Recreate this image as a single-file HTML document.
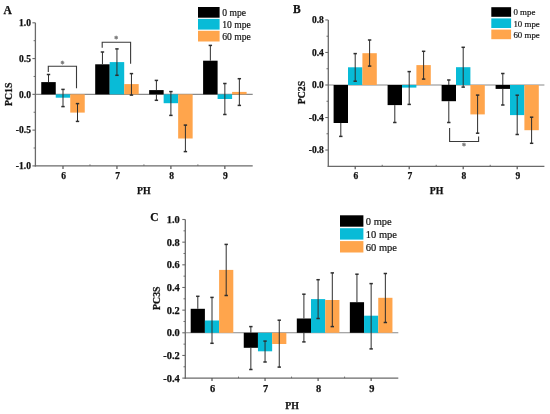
<!DOCTYPE html>
<html><head><meta charset="utf-8"><title>PC bar charts</title>
<style>
html,body{margin:0;padding:0;background:#fff;}
body{width:550px;height:414px;overflow:hidden;}
svg{display:block;}
svg text{font-family:'Liberation Serif', 'Times New Roman', serif;fill:#111;}
svg text[font-weight=bold]{stroke:#111;stroke-width:0.25px;}
svg text[font-weight=normal]{stroke:#222;stroke-width:0.2px;}
</style></head>
<body>
<svg width="550" height="414" viewBox="0 0 550 414" shape-rendering="auto">
<rect x="0" y="0" width="550" height="414" fill="#fff"/>
<line x1="35.40" y1="94.35" x2="252.70" y2="94.35" stroke="#8a8a8a" stroke-width="1.1"/>
<rect x="41.25" y="82.10" width="14.50" height="12.25" fill="#000"/>
<rect x="55.75" y="94.35" width="14.50" height="3.35" fill="#08bbd7"/>
<rect x="70.25" y="94.35" width="14.50" height="18.25" fill="#ffa54c"/>
<line x1="48.50" y1="74.50" x2="48.50" y2="82.10" stroke="#2e2e2e" stroke-width="1.0"/>
<line x1="46.80" y1="74.50" x2="50.20" y2="74.50" stroke="#2e2e2e" stroke-width="1.5"/>
<line x1="63.00" y1="89.40" x2="63.00" y2="106.60" stroke="#2e2e2e" stroke-width="1.0"/>
<line x1="61.30" y1="89.40" x2="64.70" y2="89.40" stroke="#2e2e2e" stroke-width="1.5"/>
<line x1="61.30" y1="106.60" x2="64.70" y2="106.60" stroke="#2e2e2e" stroke-width="1.5"/>
<line x1="77.50" y1="103.60" x2="77.50" y2="121.40" stroke="#2e2e2e" stroke-width="1.0"/>
<line x1="75.80" y1="103.60" x2="79.20" y2="103.60" stroke="#2e2e2e" stroke-width="1.5"/>
<line x1="75.80" y1="121.40" x2="79.20" y2="121.40" stroke="#2e2e2e" stroke-width="1.5"/>
<rect x="95.20" y="64.30" width="14.50" height="30.05" fill="#000"/>
<rect x="109.70" y="62.10" width="14.50" height="32.25" fill="#08bbd7"/>
<rect x="124.20" y="84.10" width="14.50" height="10.25" fill="#ffa54c"/>
<line x1="102.45" y1="52.00" x2="102.45" y2="64.30" stroke="#2e2e2e" stroke-width="1.0"/>
<line x1="100.75" y1="52.00" x2="104.15" y2="52.00" stroke="#2e2e2e" stroke-width="1.5"/>
<line x1="116.95" y1="48.90" x2="116.95" y2="75.30" stroke="#2e2e2e" stroke-width="1.0"/>
<line x1="115.25" y1="48.90" x2="118.65" y2="48.90" stroke="#2e2e2e" stroke-width="1.5"/>
<line x1="115.25" y1="75.30" x2="118.65" y2="75.30" stroke="#2e2e2e" stroke-width="1.5"/>
<line x1="131.45" y1="73.60" x2="131.45" y2="95.10" stroke="#2e2e2e" stroke-width="1.0"/>
<line x1="129.75" y1="73.60" x2="133.15" y2="73.60" stroke="#2e2e2e" stroke-width="1.5"/>
<line x1="129.75" y1="95.10" x2="133.15" y2="95.10" stroke="#2e2e2e" stroke-width="1.5"/>
<rect x="149.15" y="90.10" width="14.50" height="4.25" fill="#000"/>
<rect x="163.65" y="94.35" width="14.50" height="8.85" fill="#08bbd7"/>
<rect x="178.15" y="94.35" width="14.50" height="44.15" fill="#ffa54c"/>
<line x1="156.40" y1="80.40" x2="156.40" y2="90.10" stroke="#2e2e2e" stroke-width="1.0"/>
<line x1="156.40" y1="94.35" x2="156.40" y2="100.30" stroke="#2e2e2e" stroke-width="1.0"/>
<line x1="154.70" y1="80.40" x2="158.10" y2="80.40" stroke="#2e2e2e" stroke-width="1.5"/>
<line x1="154.70" y1="100.30" x2="158.10" y2="100.30" stroke="#2e2e2e" stroke-width="1.5"/>
<line x1="170.90" y1="91.60" x2="170.90" y2="115.40" stroke="#2e2e2e" stroke-width="1.0"/>
<line x1="169.20" y1="91.60" x2="172.60" y2="91.60" stroke="#2e2e2e" stroke-width="1.5"/>
<line x1="169.20" y1="115.40" x2="172.60" y2="115.40" stroke="#2e2e2e" stroke-width="1.5"/>
<line x1="185.40" y1="125.10" x2="185.40" y2="151.60" stroke="#2e2e2e" stroke-width="1.0"/>
<line x1="183.70" y1="125.10" x2="187.10" y2="125.10" stroke="#2e2e2e" stroke-width="1.5"/>
<line x1="183.70" y1="151.60" x2="187.10" y2="151.60" stroke="#2e2e2e" stroke-width="1.5"/>
<rect x="203.10" y="60.70" width="14.50" height="33.65" fill="#000"/>
<rect x="217.60" y="94.35" width="14.50" height="4.65" fill="#08bbd7"/>
<rect x="232.10" y="91.90" width="14.50" height="2.45" fill="#ffa54c"/>
<line x1="210.35" y1="45.40" x2="210.35" y2="60.70" stroke="#2e2e2e" stroke-width="1.0"/>
<line x1="208.65" y1="45.40" x2="212.05" y2="45.40" stroke="#2e2e2e" stroke-width="1.5"/>
<line x1="224.85" y1="83.50" x2="224.85" y2="114.50" stroke="#2e2e2e" stroke-width="1.0"/>
<line x1="223.15" y1="83.50" x2="226.55" y2="83.50" stroke="#2e2e2e" stroke-width="1.5"/>
<line x1="223.15" y1="114.50" x2="226.55" y2="114.50" stroke="#2e2e2e" stroke-width="1.5"/>
<line x1="239.35" y1="78.70" x2="239.35" y2="105.40" stroke="#2e2e2e" stroke-width="1.0"/>
<line x1="237.65" y1="78.70" x2="241.05" y2="78.70" stroke="#2e2e2e" stroke-width="1.5"/>
<line x1="237.65" y1="105.40" x2="241.05" y2="105.40" stroke="#2e2e2e" stroke-width="1.5"/>
<line x1="35.40" y1="22.80" x2="35.40" y2="166.50" stroke="#6a6a6a" stroke-width="1.3"/>
<line x1="34.80" y1="165.90" x2="252.70" y2="165.90" stroke="#6a6a6a" stroke-width="1.3"/>
<line x1="32.40" y1="22.80" x2="35.40" y2="22.80" stroke="#6a6a6a" stroke-width="1.1"/>
<text x="30.90" y="26.03" font-size="9.5" text-anchor="end" font-weight="bold" >1.0</text>
<line x1="32.40" y1="58.57" x2="35.40" y2="58.57" stroke="#6a6a6a" stroke-width="1.1"/>
<text x="30.90" y="61.80" font-size="9.5" text-anchor="end" font-weight="bold" >0.5</text>
<line x1="32.40" y1="94.35" x2="35.40" y2="94.35" stroke="#6a6a6a" stroke-width="1.1"/>
<text x="30.90" y="97.58" font-size="9.5" text-anchor="end" font-weight="bold" >0.0</text>
<line x1="32.40" y1="130.12" x2="35.40" y2="130.12" stroke="#6a6a6a" stroke-width="1.1"/>
<text x="30.90" y="133.35" font-size="9.5" text-anchor="end" font-weight="bold" >-0.5</text>
<line x1="32.40" y1="165.90" x2="35.40" y2="165.90" stroke="#6a6a6a" stroke-width="1.1"/>
<text x="30.90" y="169.13" font-size="9.5" text-anchor="end" font-weight="bold" >-1.0</text>
<line x1="33.60" y1="40.69" x2="35.40" y2="40.69" stroke="#6a6a6a" stroke-width="1.0"/>
<line x1="33.60" y1="76.46" x2="35.40" y2="76.46" stroke="#6a6a6a" stroke-width="1.0"/>
<line x1="33.60" y1="112.24" x2="35.40" y2="112.24" stroke="#6a6a6a" stroke-width="1.0"/>
<line x1="33.60" y1="148.01" x2="35.40" y2="148.01" stroke="#6a6a6a" stroke-width="1.0"/>
<line x1="63.00" y1="165.90" x2="63.00" y2="168.90" stroke="#555" stroke-width="1.2"/>
<text x="63.60" y="178.80" font-size="9.5" text-anchor="middle" font-weight="bold" >6</text>
<line x1="116.95" y1="165.90" x2="116.95" y2="168.90" stroke="#555" stroke-width="1.2"/>
<text x="117.55" y="178.80" font-size="9.5" text-anchor="middle" font-weight="bold" >7</text>
<line x1="170.90" y1="165.90" x2="170.90" y2="168.90" stroke="#555" stroke-width="1.2"/>
<text x="171.50" y="178.80" font-size="9.5" text-anchor="middle" font-weight="bold" >8</text>
<line x1="224.85" y1="165.90" x2="224.85" y2="168.90" stroke="#555" stroke-width="1.2"/>
<text x="225.45" y="178.80" font-size="9.5" text-anchor="middle" font-weight="bold" >9</text>
<line x1="89.97" y1="164.40" x2="89.97" y2="165.90" stroke="#6a6a6a" stroke-width="1.0"/>
<line x1="143.93" y1="164.40" x2="143.93" y2="165.90" stroke="#6a6a6a" stroke-width="1.0"/>
<line x1="197.88" y1="164.40" x2="197.88" y2="165.90" stroke="#6a6a6a" stroke-width="1.0"/>
<text x="143.90" y="194.20" font-size="9.8" text-anchor="middle" font-weight="bold" >PH</text>
<text x="12.30" y="94.30" font-size="9.8" text-anchor="middle" font-weight="bold" transform="rotate(-90 12.30 94.30)">PC1S</text>
<text x="3.60" y="13.70" font-size="11.5" text-anchor="start" font-weight="bold" >A</text>
<rect x="198.00" y="7.00" width="21.60" height="10.70" fill="#000"/>
<text x="222.30" y="15.92" font-size="9.6" text-anchor="start" font-weight="normal" >0 mpe</text>
<rect x="198.00" y="18.90" width="21.60" height="10.70" fill="#08bbd7"/>
<text x="222.30" y="27.82" font-size="9.6" text-anchor="start" font-weight="normal" >10 mpe</text>
<rect x="198.00" y="30.80" width="21.60" height="10.70" fill="#ffa54c"/>
<text x="222.30" y="39.72" font-size="9.6" text-anchor="start" font-weight="normal" >60 mpe</text>
<path d="M48.30,72.00 L48.30,66.20 L76.50,66.20 L76.50,88.30" fill="none" stroke="#3a3a3a" stroke-width="1.1"/>
<path d="M102.20,47.80 L102.20,42.20 L130.60,42.20 L130.60,63.80" fill="none" stroke="#3a3a3a" stroke-width="1.1"/>
<text x="62.40" y="66.60" font-size="8" text-anchor="middle" font-weight="bold" style="fill:#777;stroke:#777;stroke-width:0.3px">*</text>
<text x="116.30" y="41.60" font-size="8" text-anchor="middle" font-weight="bold" style="fill:#777;stroke:#777;stroke-width:0.3px">*</text>
<line x1="328.30" y1="85.00" x2="544.40" y2="85.00" stroke="#8a8a8a" stroke-width="1.1"/>
<rect x="333.60" y="85.00" width="14.40" height="38.00" fill="#000"/>
<rect x="348.00" y="67.30" width="14.40" height="17.70" fill="#08bbd7"/>
<rect x="362.40" y="53.20" width="14.40" height="31.80" fill="#ffa54c"/>
<line x1="340.80" y1="123.00" x2="340.80" y2="136.40" stroke="#2e2e2e" stroke-width="1.0"/>
<line x1="339.10" y1="136.40" x2="342.50" y2="136.40" stroke="#2e2e2e" stroke-width="1.5"/>
<line x1="355.20" y1="53.60" x2="355.20" y2="81.20" stroke="#2e2e2e" stroke-width="1.0"/>
<line x1="353.50" y1="53.60" x2="356.90" y2="53.60" stroke="#2e2e2e" stroke-width="1.5"/>
<line x1="353.50" y1="81.20" x2="356.90" y2="81.20" stroke="#2e2e2e" stroke-width="1.5"/>
<line x1="369.60" y1="40.00" x2="369.60" y2="66.10" stroke="#2e2e2e" stroke-width="1.0"/>
<line x1="367.90" y1="40.00" x2="371.30" y2="40.00" stroke="#2e2e2e" stroke-width="1.5"/>
<line x1="367.90" y1="66.10" x2="371.30" y2="66.10" stroke="#2e2e2e" stroke-width="1.5"/>
<rect x="387.60" y="85.00" width="14.40" height="20.10" fill="#000"/>
<rect x="402.00" y="85.00" width="14.40" height="2.60" fill="#08bbd7"/>
<rect x="416.40" y="65.10" width="14.40" height="19.90" fill="#ffa54c"/>
<line x1="394.80" y1="105.10" x2="394.80" y2="122.50" stroke="#2e2e2e" stroke-width="1.0"/>
<line x1="393.10" y1="122.50" x2="396.50" y2="122.50" stroke="#2e2e2e" stroke-width="1.5"/>
<line x1="409.20" y1="71.60" x2="409.20" y2="104.40" stroke="#2e2e2e" stroke-width="1.0"/>
<line x1="407.50" y1="71.60" x2="410.90" y2="71.60" stroke="#2e2e2e" stroke-width="1.5"/>
<line x1="407.50" y1="104.40" x2="410.90" y2="104.40" stroke="#2e2e2e" stroke-width="1.5"/>
<line x1="423.60" y1="51.30" x2="423.60" y2="79.10" stroke="#2e2e2e" stroke-width="1.0"/>
<line x1="421.90" y1="51.30" x2="425.30" y2="51.30" stroke="#2e2e2e" stroke-width="1.5"/>
<line x1="421.90" y1="79.10" x2="425.30" y2="79.10" stroke="#2e2e2e" stroke-width="1.5"/>
<rect x="441.60" y="85.00" width="14.40" height="16.20" fill="#000"/>
<rect x="456.00" y="67.20" width="14.40" height="17.80" fill="#08bbd7"/>
<rect x="470.40" y="85.00" width="14.40" height="29.40" fill="#ffa54c"/>
<line x1="448.80" y1="80.00" x2="448.80" y2="85.00" stroke="#2e2e2e" stroke-width="1.0"/>
<line x1="448.80" y1="101.20" x2="448.80" y2="122.50" stroke="#2e2e2e" stroke-width="1.0"/>
<line x1="447.10" y1="80.00" x2="450.50" y2="80.00" stroke="#2e2e2e" stroke-width="1.5"/>
<line x1="447.10" y1="122.50" x2="450.50" y2="122.50" stroke="#2e2e2e" stroke-width="1.5"/>
<line x1="463.20" y1="47.30" x2="463.20" y2="87.10" stroke="#2e2e2e" stroke-width="1.0"/>
<line x1="461.50" y1="47.30" x2="464.90" y2="47.30" stroke="#2e2e2e" stroke-width="1.5"/>
<line x1="461.50" y1="87.10" x2="464.90" y2="87.10" stroke="#2e2e2e" stroke-width="1.5"/>
<line x1="477.60" y1="95.10" x2="477.60" y2="133.20" stroke="#2e2e2e" stroke-width="1.0"/>
<line x1="475.90" y1="95.10" x2="479.30" y2="95.10" stroke="#2e2e2e" stroke-width="1.5"/>
<line x1="475.90" y1="133.20" x2="479.30" y2="133.20" stroke="#2e2e2e" stroke-width="1.5"/>
<rect x="495.60" y="85.00" width="14.40" height="3.90" fill="#000"/>
<rect x="510.00" y="85.00" width="14.40" height="30.10" fill="#08bbd7"/>
<rect x="524.40" y="85.00" width="14.40" height="45.20" fill="#ffa54c"/>
<line x1="502.80" y1="73.50" x2="502.80" y2="85.00" stroke="#2e2e2e" stroke-width="1.0"/>
<line x1="502.80" y1="88.90" x2="502.80" y2="105.00" stroke="#2e2e2e" stroke-width="1.0"/>
<line x1="501.10" y1="73.50" x2="504.50" y2="73.50" stroke="#2e2e2e" stroke-width="1.5"/>
<line x1="501.10" y1="105.00" x2="504.50" y2="105.00" stroke="#2e2e2e" stroke-width="1.5"/>
<line x1="517.20" y1="95.20" x2="517.20" y2="134.50" stroke="#2e2e2e" stroke-width="1.0"/>
<line x1="515.50" y1="95.20" x2="518.90" y2="95.20" stroke="#2e2e2e" stroke-width="1.5"/>
<line x1="515.50" y1="134.50" x2="518.90" y2="134.50" stroke="#2e2e2e" stroke-width="1.5"/>
<line x1="531.60" y1="117.20" x2="531.60" y2="143.30" stroke="#2e2e2e" stroke-width="1.0"/>
<line x1="529.90" y1="117.20" x2="533.30" y2="117.20" stroke="#2e2e2e" stroke-width="1.5"/>
<line x1="529.90" y1="143.30" x2="533.30" y2="143.30" stroke="#2e2e2e" stroke-width="1.5"/>
<line x1="328.30" y1="19.96" x2="328.30" y2="166.90" stroke="#6a6a6a" stroke-width="1.3"/>
<line x1="327.70" y1="166.30" x2="544.40" y2="166.30" stroke="#6a6a6a" stroke-width="1.3"/>
<line x1="325.30" y1="19.96" x2="328.30" y2="19.96" stroke="#6a6a6a" stroke-width="1.1"/>
<text x="323.80" y="23.19" font-size="9.5" text-anchor="end" font-weight="bold" >0.8</text>
<line x1="325.30" y1="52.48" x2="328.30" y2="52.48" stroke="#6a6a6a" stroke-width="1.1"/>
<text x="323.80" y="55.71" font-size="9.5" text-anchor="end" font-weight="bold" >0.4</text>
<line x1="325.30" y1="85.00" x2="328.30" y2="85.00" stroke="#6a6a6a" stroke-width="1.1"/>
<text x="323.80" y="88.23" font-size="9.5" text-anchor="end" font-weight="bold" >0.0</text>
<line x1="325.30" y1="117.52" x2="328.30" y2="117.52" stroke="#6a6a6a" stroke-width="1.1"/>
<text x="323.80" y="120.75" font-size="9.5" text-anchor="end" font-weight="bold" >-0.4</text>
<line x1="325.30" y1="150.04" x2="328.30" y2="150.04" stroke="#6a6a6a" stroke-width="1.1"/>
<text x="323.80" y="153.27" font-size="9.5" text-anchor="end" font-weight="bold" >-0.8</text>
<line x1="326.50" y1="36.22" x2="328.30" y2="36.22" stroke="#6a6a6a" stroke-width="1.0"/>
<line x1="326.50" y1="68.74" x2="328.30" y2="68.74" stroke="#6a6a6a" stroke-width="1.0"/>
<line x1="326.50" y1="101.26" x2="328.30" y2="101.26" stroke="#6a6a6a" stroke-width="1.0"/>
<line x1="326.50" y1="133.78" x2="328.30" y2="133.78" stroke="#6a6a6a" stroke-width="1.0"/>
<line x1="355.20" y1="166.30" x2="355.20" y2="169.30" stroke="#555" stroke-width="1.2"/>
<text x="355.80" y="178.80" font-size="9.5" text-anchor="middle" font-weight="bold" >6</text>
<line x1="409.20" y1="166.30" x2="409.20" y2="169.30" stroke="#555" stroke-width="1.2"/>
<text x="409.80" y="178.80" font-size="9.5" text-anchor="middle" font-weight="bold" >7</text>
<line x1="463.20" y1="166.30" x2="463.20" y2="169.30" stroke="#555" stroke-width="1.2"/>
<text x="463.80" y="178.80" font-size="9.5" text-anchor="middle" font-weight="bold" >8</text>
<line x1="517.20" y1="166.30" x2="517.20" y2="169.30" stroke="#555" stroke-width="1.2"/>
<text x="517.80" y="178.80" font-size="9.5" text-anchor="middle" font-weight="bold" >9</text>
<line x1="382.20" y1="164.80" x2="382.20" y2="166.30" stroke="#6a6a6a" stroke-width="1.0"/>
<line x1="436.20" y1="164.80" x2="436.20" y2="166.30" stroke="#6a6a6a" stroke-width="1.0"/>
<line x1="490.20" y1="164.80" x2="490.20" y2="166.30" stroke="#6a6a6a" stroke-width="1.0"/>
<text x="436.60" y="194.00" font-size="9.8" text-anchor="middle" font-weight="bold" >PH</text>
<text x="305.00" y="92.50" font-size="9.8" text-anchor="middle" font-weight="bold" transform="rotate(-90 305.00 92.50)">PC2S</text>
<text x="292.90" y="12.90" font-size="11.5" text-anchor="start" font-weight="bold" >B</text>
<rect x="491.30" y="7.20" width="19.80" height="9.60" fill="#000"/>
<text x="513.40" y="15.44" font-size="8.9" text-anchor="start" font-weight="normal" >0 mpe</text>
<rect x="491.30" y="18.40" width="19.80" height="9.60" fill="#08bbd7"/>
<text x="513.40" y="26.64" font-size="8.9" text-anchor="start" font-weight="normal" >10 mpe</text>
<rect x="491.30" y="29.60" width="19.80" height="9.60" fill="#ffa54c"/>
<text x="513.40" y="37.84" font-size="8.9" text-anchor="start" font-weight="normal" >60 mpe</text>
<path d="M449.60,127.90 L449.60,141.50 L478.60,141.50 L478.60,136.60" fill="none" stroke="#3a3a3a" stroke-width="1.1"/>
<text x="464.00" y="149.00" font-size="8" text-anchor="middle" font-weight="bold" style="fill:#777;stroke:#777;stroke-width:0.3px">*</text>
<line x1="185.30" y1="332.80" x2="398.30" y2="332.80" stroke="#8a8a8a" stroke-width="1.1"/>
<rect x="190.70" y="308.80" width="14.20" height="24.00" fill="#000"/>
<rect x="204.90" y="320.50" width="14.20" height="12.30" fill="#08bbd7"/>
<rect x="219.10" y="269.90" width="14.20" height="62.90" fill="#ffa54c"/>
<line x1="197.80" y1="296.30" x2="197.80" y2="308.80" stroke="#2e2e2e" stroke-width="1.0"/>
<line x1="196.10" y1="296.30" x2="199.50" y2="296.30" stroke="#2e2e2e" stroke-width="1.5"/>
<line x1="212.00" y1="297.40" x2="212.00" y2="343.30" stroke="#2e2e2e" stroke-width="1.0"/>
<line x1="210.30" y1="297.40" x2="213.70" y2="297.40" stroke="#2e2e2e" stroke-width="1.5"/>
<line x1="210.30" y1="343.30" x2="213.70" y2="343.30" stroke="#2e2e2e" stroke-width="1.5"/>
<line x1="226.20" y1="244.40" x2="226.20" y2="295.50" stroke="#2e2e2e" stroke-width="1.0"/>
<line x1="224.50" y1="244.40" x2="227.90" y2="244.40" stroke="#2e2e2e" stroke-width="1.5"/>
<line x1="224.50" y1="295.50" x2="227.90" y2="295.50" stroke="#2e2e2e" stroke-width="1.5"/>
<rect x="243.75" y="332.80" width="14.20" height="15.00" fill="#000"/>
<rect x="257.95" y="332.80" width="14.20" height="18.50" fill="#08bbd7"/>
<rect x="272.15" y="332.80" width="14.20" height="11.20" fill="#ffa54c"/>
<line x1="250.85" y1="326.60" x2="250.85" y2="332.80" stroke="#2e2e2e" stroke-width="1.0"/>
<line x1="250.85" y1="347.80" x2="250.85" y2="369.50" stroke="#2e2e2e" stroke-width="1.0"/>
<line x1="249.15" y1="326.60" x2="252.55" y2="326.60" stroke="#2e2e2e" stroke-width="1.5"/>
<line x1="249.15" y1="369.50" x2="252.55" y2="369.50" stroke="#2e2e2e" stroke-width="1.5"/>
<line x1="265.05" y1="341.10" x2="265.05" y2="362.00" stroke="#2e2e2e" stroke-width="1.0"/>
<line x1="263.35" y1="341.10" x2="266.75" y2="341.10" stroke="#2e2e2e" stroke-width="1.5"/>
<line x1="263.35" y1="362.00" x2="266.75" y2="362.00" stroke="#2e2e2e" stroke-width="1.5"/>
<line x1="279.25" y1="320.20" x2="279.25" y2="367.10" stroke="#2e2e2e" stroke-width="1.0"/>
<line x1="277.55" y1="320.20" x2="280.95" y2="320.20" stroke="#2e2e2e" stroke-width="1.5"/>
<line x1="277.55" y1="367.10" x2="280.95" y2="367.10" stroke="#2e2e2e" stroke-width="1.5"/>
<rect x="296.80" y="318.50" width="14.20" height="14.30" fill="#000"/>
<rect x="311.00" y="299.10" width="14.20" height="33.70" fill="#08bbd7"/>
<rect x="325.20" y="300.00" width="14.20" height="32.80" fill="#ffa54c"/>
<line x1="303.90" y1="294.20" x2="303.90" y2="318.50" stroke="#2e2e2e" stroke-width="1.0"/>
<line x1="303.90" y1="332.80" x2="303.90" y2="341.90" stroke="#2e2e2e" stroke-width="1.0"/>
<line x1="302.20" y1="294.20" x2="305.60" y2="294.20" stroke="#2e2e2e" stroke-width="1.5"/>
<line x1="302.20" y1="341.90" x2="305.60" y2="341.90" stroke="#2e2e2e" stroke-width="1.5"/>
<line x1="318.10" y1="279.70" x2="318.10" y2="318.50" stroke="#2e2e2e" stroke-width="1.0"/>
<line x1="316.40" y1="279.70" x2="319.80" y2="279.70" stroke="#2e2e2e" stroke-width="1.5"/>
<line x1="316.40" y1="318.50" x2="319.80" y2="318.50" stroke="#2e2e2e" stroke-width="1.5"/>
<line x1="332.30" y1="272.90" x2="332.30" y2="326.60" stroke="#2e2e2e" stroke-width="1.0"/>
<line x1="330.60" y1="272.90" x2="334.00" y2="272.90" stroke="#2e2e2e" stroke-width="1.5"/>
<line x1="330.60" y1="326.60" x2="334.00" y2="326.60" stroke="#2e2e2e" stroke-width="1.5"/>
<rect x="349.85" y="302.20" width="14.20" height="30.60" fill="#000"/>
<rect x="364.05" y="315.70" width="14.20" height="17.10" fill="#08bbd7"/>
<rect x="378.25" y="297.80" width="14.20" height="35.00" fill="#ffa54c"/>
<line x1="356.95" y1="274.20" x2="356.95" y2="302.20" stroke="#2e2e2e" stroke-width="1.0"/>
<line x1="355.25" y1="274.20" x2="358.65" y2="274.20" stroke="#2e2e2e" stroke-width="1.5"/>
<line x1="371.15" y1="283.60" x2="371.15" y2="348.90" stroke="#2e2e2e" stroke-width="1.0"/>
<line x1="369.45" y1="283.60" x2="372.85" y2="283.60" stroke="#2e2e2e" stroke-width="1.5"/>
<line x1="369.45" y1="348.90" x2="372.85" y2="348.90" stroke="#2e2e2e" stroke-width="1.5"/>
<line x1="385.35" y1="273.50" x2="385.35" y2="322.50" stroke="#2e2e2e" stroke-width="1.0"/>
<line x1="383.65" y1="273.50" x2="387.05" y2="273.50" stroke="#2e2e2e" stroke-width="1.5"/>
<line x1="383.65" y1="322.50" x2="387.05" y2="322.50" stroke="#2e2e2e" stroke-width="1.5"/>
<line x1="185.30" y1="219.50" x2="185.30" y2="378.72" stroke="#6a6a6a" stroke-width="1.3"/>
<line x1="184.70" y1="378.12" x2="398.30" y2="378.12" stroke="#6a6a6a" stroke-width="1.3"/>
<line x1="182.30" y1="219.50" x2="185.30" y2="219.50" stroke="#6a6a6a" stroke-width="1.1"/>
<text x="179.70" y="223.04" font-size="10.4" text-anchor="end" font-weight="bold" >1.0</text>
<line x1="182.30" y1="242.16" x2="185.30" y2="242.16" stroke="#6a6a6a" stroke-width="1.1"/>
<text x="179.70" y="245.70" font-size="10.4" text-anchor="end" font-weight="bold" >0.8</text>
<line x1="182.30" y1="264.82" x2="185.30" y2="264.82" stroke="#6a6a6a" stroke-width="1.1"/>
<text x="179.70" y="268.36" font-size="10.4" text-anchor="end" font-weight="bold" >0.6</text>
<line x1="182.30" y1="287.48" x2="185.30" y2="287.48" stroke="#6a6a6a" stroke-width="1.1"/>
<text x="179.70" y="291.02" font-size="10.4" text-anchor="end" font-weight="bold" >0.4</text>
<line x1="182.30" y1="310.14" x2="185.30" y2="310.14" stroke="#6a6a6a" stroke-width="1.1"/>
<text x="179.70" y="313.68" font-size="10.4" text-anchor="end" font-weight="bold" >0.2</text>
<line x1="182.30" y1="332.80" x2="185.30" y2="332.80" stroke="#6a6a6a" stroke-width="1.1"/>
<text x="179.70" y="336.34" font-size="10.4" text-anchor="end" font-weight="bold" >0.0</text>
<line x1="182.30" y1="355.46" x2="185.30" y2="355.46" stroke="#6a6a6a" stroke-width="1.1"/>
<text x="179.70" y="359.00" font-size="10.4" text-anchor="end" font-weight="bold" >-0.2</text>
<line x1="182.30" y1="378.12" x2="185.30" y2="378.12" stroke="#6a6a6a" stroke-width="1.1"/>
<text x="179.70" y="381.66" font-size="10.4" text-anchor="end" font-weight="bold" >-0.4</text>
<line x1="183.50" y1="230.83" x2="185.30" y2="230.83" stroke="#6a6a6a" stroke-width="1.0"/>
<line x1="183.50" y1="253.49" x2="185.30" y2="253.49" stroke="#6a6a6a" stroke-width="1.0"/>
<line x1="183.50" y1="276.15" x2="185.30" y2="276.15" stroke="#6a6a6a" stroke-width="1.0"/>
<line x1="183.50" y1="298.81" x2="185.30" y2="298.81" stroke="#6a6a6a" stroke-width="1.0"/>
<line x1="183.50" y1="321.47" x2="185.30" y2="321.47" stroke="#6a6a6a" stroke-width="1.0"/>
<line x1="183.50" y1="344.13" x2="185.30" y2="344.13" stroke="#6a6a6a" stroke-width="1.0"/>
<line x1="183.50" y1="366.79" x2="185.30" y2="366.79" stroke="#6a6a6a" stroke-width="1.0"/>
<line x1="212.00" y1="378.12" x2="212.00" y2="381.12" stroke="#555" stroke-width="1.2"/>
<text x="212.60" y="392.20" font-size="10.4" text-anchor="middle" font-weight="bold" >6</text>
<line x1="265.05" y1="378.12" x2="265.05" y2="381.12" stroke="#555" stroke-width="1.2"/>
<text x="265.65" y="392.20" font-size="10.4" text-anchor="middle" font-weight="bold" >7</text>
<line x1="318.10" y1="378.12" x2="318.10" y2="381.12" stroke="#555" stroke-width="1.2"/>
<text x="318.70" y="392.20" font-size="10.4" text-anchor="middle" font-weight="bold" >8</text>
<line x1="371.15" y1="378.12" x2="371.15" y2="381.12" stroke="#555" stroke-width="1.2"/>
<text x="371.75" y="392.20" font-size="10.4" text-anchor="middle" font-weight="bold" >9</text>
<line x1="238.50" y1="376.62" x2="238.50" y2="378.12" stroke="#6a6a6a" stroke-width="1.0"/>
<line x1="291.55" y1="376.62" x2="291.55" y2="378.12" stroke="#6a6a6a" stroke-width="1.0"/>
<line x1="344.60" y1="376.62" x2="344.60" y2="378.12" stroke="#6a6a6a" stroke-width="1.0"/>
<text x="292.00" y="409.00" font-size="9.8" text-anchor="middle" font-weight="bold" >PH</text>
<text x="160.30" y="298.20" font-size="9.8" text-anchor="middle" font-weight="bold" transform="rotate(-90 160.30 298.20)">PC3S</text>
<text x="150.30" y="220.50" font-size="11.5" text-anchor="start" font-weight="bold" >C</text>
<rect x="340.00" y="215.30" width="23.40" height="11.40" fill="#000"/>
<text x="365.80" y="225.47" font-size="10.5" text-anchor="start" font-weight="normal" >0 mpe</text>
<rect x="340.00" y="228.20" width="23.40" height="11.40" fill="#08bbd7"/>
<text x="365.80" y="238.37" font-size="10.5" text-anchor="start" font-weight="normal" >10 mpe</text>
<rect x="340.00" y="241.10" width="23.40" height="11.40" fill="#ffa54c"/>
<text x="365.80" y="251.27" font-size="10.5" text-anchor="start" font-weight="normal" >60 mpe</text>
</svg>
</body></html>
